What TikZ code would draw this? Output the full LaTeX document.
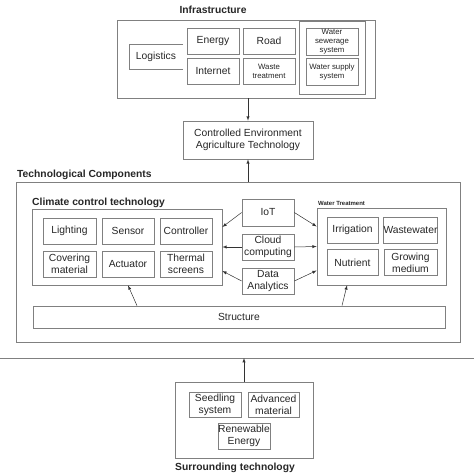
\documentclass[tikz,border=0pt]{standalone}
\usepackage{fontspec}
\setmainfont{Liberation Sans}
\usetikzlibrary{positioning, arrows, calc}

\newcommand{\mainsz}{\fontsize{10.3}{12}\selectfont}
\newcommand{\smallsz}{\fontsize{7.8}{9}\selectfont}
\newcommand{\tinysz}{\fontsize{6}{7}\selectfont}

\begin{document}
\begin{tikzpicture}[x=1pt, y=-1pt, font=\mainsz, text=black!85,
  box/.style={draw=black!50, line width=0.7pt, inner sep=0pt, align=center},
  cell/.style={box, minimum width=52pt, minimum height=26pt},
  heading/.style={font=\mainsz\bfseries, inner sep=0pt},
  link/.style={-latex, black!80, line width=0.5pt}]

  \useasboundingbox (0,0) rectangle (474,474);

  % --- Infrastructure ---
  \node[heading] (infratitle) at (213,10) {Infrastructure};
  \node[box, minimum width=258pt, minimum height=78pt] (infra) at (246,59) {};
  \node (logi) at (156,57) {Logistics};
  \draw[black!50, line width=0.7pt]
    (183,44) -- (129,44) -- (129,69) -- (183,69);
  \node[cell] (energy) at (213,41) {Energy};
  \node[cell] (internet) at (213,71) {Internet};
  \node[cell] (road) at (269,41) {Road};
  \node[cell, font=\smallsz] (waste) at (269,71) {Waste\\treatment};
  \node[box, minimum width=66pt, minimum height=73pt] (water) at (332,57.5) {};
  \node[cell, minimum height=27pt, font=\smallsz] (sewer) at (332,41.5)
    {Water\\sewerage\\system};
  \node[cell, minimum height=27pt, font=\smallsz] (supply) at (332,71.5)
    {Water supply\\system};

  % --- CEA ---
  \node[box, minimum width=130pt, minimum height=38pt] (cea) at (248,140)
    {Controlled Environment\\Agriculture Technology};

  % --- Technological components ---
  \node[heading, anchor=west] (techtitle) at (17,175) {Technological Components};
  \node[box, minimum width=444pt, minimum height=160pt] (tech) at (238,262) {};

  % climate control
  \node[heading, anchor=west] (climtitle) at (32,203) {Climate control technology};
  \node[box, minimum width=190pt, minimum height=76pt] (clim) at (127,247) {};
  \node[cell, minimum width=53pt] (light) at (69.5,231) {Lighting};
  \node[cell] (sensor) at (128,231) {Sensor};
  \node[cell] (ctrl) at (186,231) {Controller};
  \node[cell, minimum width=53pt] (cover) at (69.5,264) {Covering\\material};
  \node[cell] (actu) at (128,264) {Actuator};
  \node[cell] (therm) at (186,264) {Thermal\\screens};

  % middle column
  \node[cell, minimum height=27pt] (iot) at (268,212.5) {IoT};
  \node[cell] (cloud) at (268,247) {Cloud\\computing};
  \node[cell] (data) at (268,281) {Data\\Analytics};

  % water treatment
  \node[heading, font=\tinysz\bfseries, anchor=west] (wttitle) at (318,203) {Water Treatment};
  \node[box, minimum width=129pt, minimum height=77pt] (wt) at (381.5,246.5) {};
  \node[cell, minimum width=51pt] (irri) at (352.5,230) {Irrigation};
  \node[cell, minimum width=53pt] (wwater) at (410.5,230) {Wastewater};
  \node[cell, minimum width=51pt] (nutr) at (352.5,262.5) {Nutrient};
  \node[cell, minimum width=53pt] (grow) at (410.5,262.5) {Growing\\medium};

  % structure
  \node[box, minimum width=412pt, minimum height=22pt] (struct) at (239,317) {Structure};

  % --- Surrounding technology ---
  \draw[black!50, line width=0.7pt] (0,358) -- (474,358);
  \coordinate (base) at (244,358);
  \node[box, minimum width=138pt, minimum height=76pt] (surr) at (244,420) {};
  \node[cell, minimum height=25pt] (seed) at (215,404.5) {Seedling\\system};
  \node[cell, minimum width=51pt, minimum height=25pt] (adv) at (273.5,404.5) {Advanced\\material};
  \node[cell] (renew) at (244,436) {Renewable\\Energy};
  \node[heading] (surrtitle) at (235,468) {Surrounding technology};

  % --- Arrows ---
  \draw[link] (infra.south -| cea.north) -- (cea.north);
  \draw[link] (tech.north -| cea.south) -- (cea.south);
  \draw[link] (surr.north) -- (base);

  \draw[link] (iot.west) -- ([yshift=20pt]clim.east);
  \draw[link] (cloud.west) -- (clim.east);
  \draw[link] (data.west) -- ([yshift=-24pt]clim.east);
  \draw[link] (iot.east) -- ([yshift=20pt]wt.west);
  \draw[link] (cloud.east) -- (wt.west);
  \draw[link] (data.east) -- ([yshift=-24pt]wt.west);

  \draw[link] ([xshift=-102pt]struct.north) -- ([xshift=1pt]clim.south);
  \draw[link] ([xshift=103pt]struct.north) -- ([xshift=-34.5pt]wt.south);

\end{tikzpicture}
\end{document}
